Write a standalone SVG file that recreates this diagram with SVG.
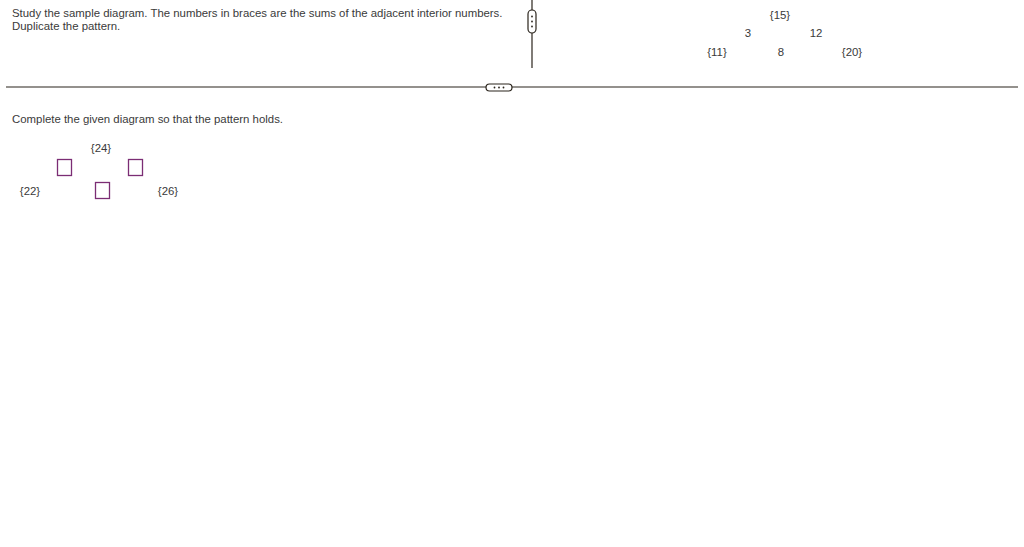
<svg xmlns="http://www.w3.org/2000/svg" width="1024" height="547" viewBox="0 0 1024 547">
<style>
text{font-family:"Liberation Sans",Arial,sans-serif;font-size:11.4px;fill:#3a3a3a}
.n{text-anchor:middle}
.box{fill:#fff;stroke:#7b2d74;stroke-width:1.3}
.ln{stroke:#2a241c;stroke-width:1.2;fill:none}
.h{fill:#fff;stroke:#2a241c;stroke-width:1.2}
</style>
<rect width="1024" height="547" fill="#fff"/>
<g id="instructions">
<text x="12" y="17">Study the sample diagram. The numbers in braces are the sums of the adjacent interior numbers.</text>
<text x="12" y="30">Duplicate the pattern.</text>
</g>
<g id="sample">
<g id="s15"><text class="n" x="780" y="19">{15}</text></g>
<g id="s3"><text class="n" x="748" y="37">3</text></g>
<g id="s12"><text class="n" x="816" y="37">12</text></g>
<g id="s11"><text class="n" x="717" y="56">{11}</text></g>
<g id="s8"><text class="n" x="781" y="56">8</text></g>
<g id="s20"><text class="n" x="852" y="56">{20}</text></g>
</g>
<g id="dividers">
<line class="ln" x1="532" y1="0" x2="532" y2="68"/>
<rect class="h" x="528" y="10" width="8" height="23" rx="4"/>
<circle cx="532" cy="16.5" r="0.9" fill="#2a241c"/>
<circle cx="532" cy="21.5" r="0.9" fill="#2a241c"/>
<circle cx="532" cy="26.5" r="0.9" fill="#2a241c"/>
<line class="ln" x1="6" y1="87" x2="1018" y2="87"/>
<rect class="h" x="486" y="84" width="26" height="7" rx="3.5"/>
<circle cx="494.5" cy="87.5" r="0.9" fill="#2a241c"/>
<circle cx="499" cy="87.5" r="0.9" fill="#2a241c"/>
<circle cx="503.5" cy="87.5" r="0.9" fill="#2a241c"/>
</g>
<g id="question">
<text x="12" y="123">Complete the given diagram so that the pattern holds.</text>
</g>
<g id="given">
<g id="g24"><text class="n" x="101" y="152">{24}</text></g>
<g id="box-left"><rect class="box" x="57.5" y="159.5" width="14" height="16"/></g>
<g id="box-right"><rect class="box" x="128.5" y="159.5" width="14" height="16"/></g>
<g id="g22"><text class="n" x="30" y="195">{22}</text></g>
<g id="box-bottom"><rect class="box" x="95.5" y="182.5" width="14" height="16"/></g>
<g id="g26"><text class="n" x="168" y="195">{26}</text></g>
</g>
</svg>
